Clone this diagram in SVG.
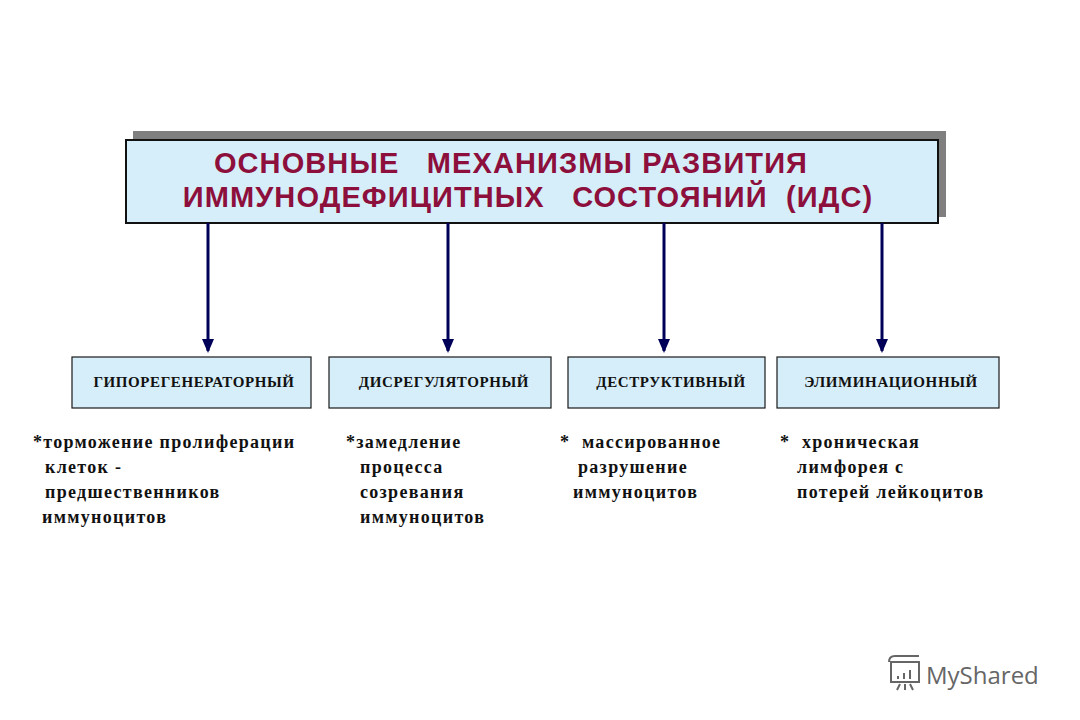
<svg xmlns="http://www.w3.org/2000/svg" width="1080" height="720" viewBox="0 0 1080 720">
<style>
.box{fill:#d6eefa;stroke:#1a1a1a;stroke-width:1.2}
.lbl{font-family:"Liberation Serif",serif;font-weight:bold;font-size:15px;letter-spacing:0.6px;fill:#111}
.desc{font-family:"Liberation Serif",serif;font-weight:bold;font-size:18px;letter-spacing:1.3px;fill:#111}
.title{font-family:"Liberation Sans",Arial,sans-serif;font-weight:bold;font-size:29px;letter-spacing:1.1px;fill:#8c0f3c}
.arr{stroke:#000058;stroke-width:3;fill:none;marker-end:url(#ah)}
</style>
<defs>
<marker id="ah" markerWidth="14" markerHeight="12" refX="12" refY="6" orient="auto" markerUnits="userSpaceOnUse" viewBox="0 0 14 12"><path d="M0,0 L14,6 L0,12 Z" fill="#000058"/></marker>
</defs>
<rect width="1080" height="720" fill="#fff"/>
<g id="title">
<rect x="133" y="131" width="813" height="86" fill="#7f7f7f"/>
<rect x="126" y="140" width="812" height="83" fill="#d6eefa" stroke="#111" stroke-width="2"/>
<text class="title" x="511" y="173" text-anchor="middle" xml:space="preserve">ОСНОВНЫЕ   МЕХАНИЗМЫ РАЗВИТИЯ</text>
<text class="title" x="528" y="207" text-anchor="middle" xml:space="preserve">ИММУНОДЕФИЦИТНЫХ   СОСТОЯНИЙ  (ИДС)</text>
</g>
<g id="connectors">
<line class="arr" x1="208" y1="223" x2="208" y2="351"/>
<line class="arr" x1="448" y1="223" x2="448" y2="351"/>
<line class="arr" x1="664" y1="223" x2="664" y2="351"/>
<line class="arr" x1="882" y1="223" x2="882" y2="351"/>
</g>
<g id="n1"><rect class="box" x="72" y="357" width="239" height="51"/><text class="lbl" x="194" y="387" text-anchor="middle">ГИПОРЕГЕНЕРАТОРНЫЙ</text></g>
<g id="n2"><rect class="box" x="329" y="357" width="222" height="51"/><text class="lbl" x="444" y="387" text-anchor="middle">ДИСРЕГУЛЯТОРНЫЙ</text></g>
<g id="n3"><rect class="box" x="568" y="357" width="197" height="51"/><text class="lbl" x="671" y="387" text-anchor="middle">ДЕСТРУКТИВНЫЙ</text></g>
<g id="n4"><rect class="box" x="777" y="357" width="222" height="51"/><text class="lbl" x="891" y="387" text-anchor="middle">ЭЛИМИНАЦИОННЫЙ</text></g>
<g id="d1" class="desc">
<text x="33" y="448">*торможение пролиферации</text>
<text x="45" y="473">клеток -</text>
<text x="45" y="498">предшественников</text>
<text x="42" y="523">иммуноцитов</text>
</g>
<g id="d2" class="desc">
<text x="346" y="448">*замедление</text>
<text x="360" y="473">процесса</text>
<text x="360" y="498">созревания</text>
<text x="360" y="523">иммуноцитов</text>
</g>
<g id="d3" class="desc">
<text x="560" y="448" xml:space="preserve">*  массированное</text>
<text x="578" y="473">разрушение</text>
<text x="573" y="498">иммуноцитов</text>
</g>
<g id="d4" class="desc">
<text x="780" y="448" xml:space="preserve">*  хроническая</text>
<text x="797" y="473">лимфорея с</text>
<text x="797" y="498">потерей лейкоцитов</text>
</g>
<g id="logo">
<rect x="891" y="662" width="28" height="20" fill="none" stroke="#666" stroke-width="2"/>
<path d="M889,662 q0,-6 6,-6 h24" fill="none" stroke="#666" stroke-width="2"/>
<path d="M898,679 v-3 M904,679 v-6 M910,679 v-9 M900,684 l-3,6 M905,684 v6 M910,684 l3,6" stroke="#666" stroke-width="2"/>
<text x="926" y="684" font-family="Open Sans,Liberation Sans,sans-serif" font-size="24" fill="#666">MyShared</text>
</g>
</svg>
